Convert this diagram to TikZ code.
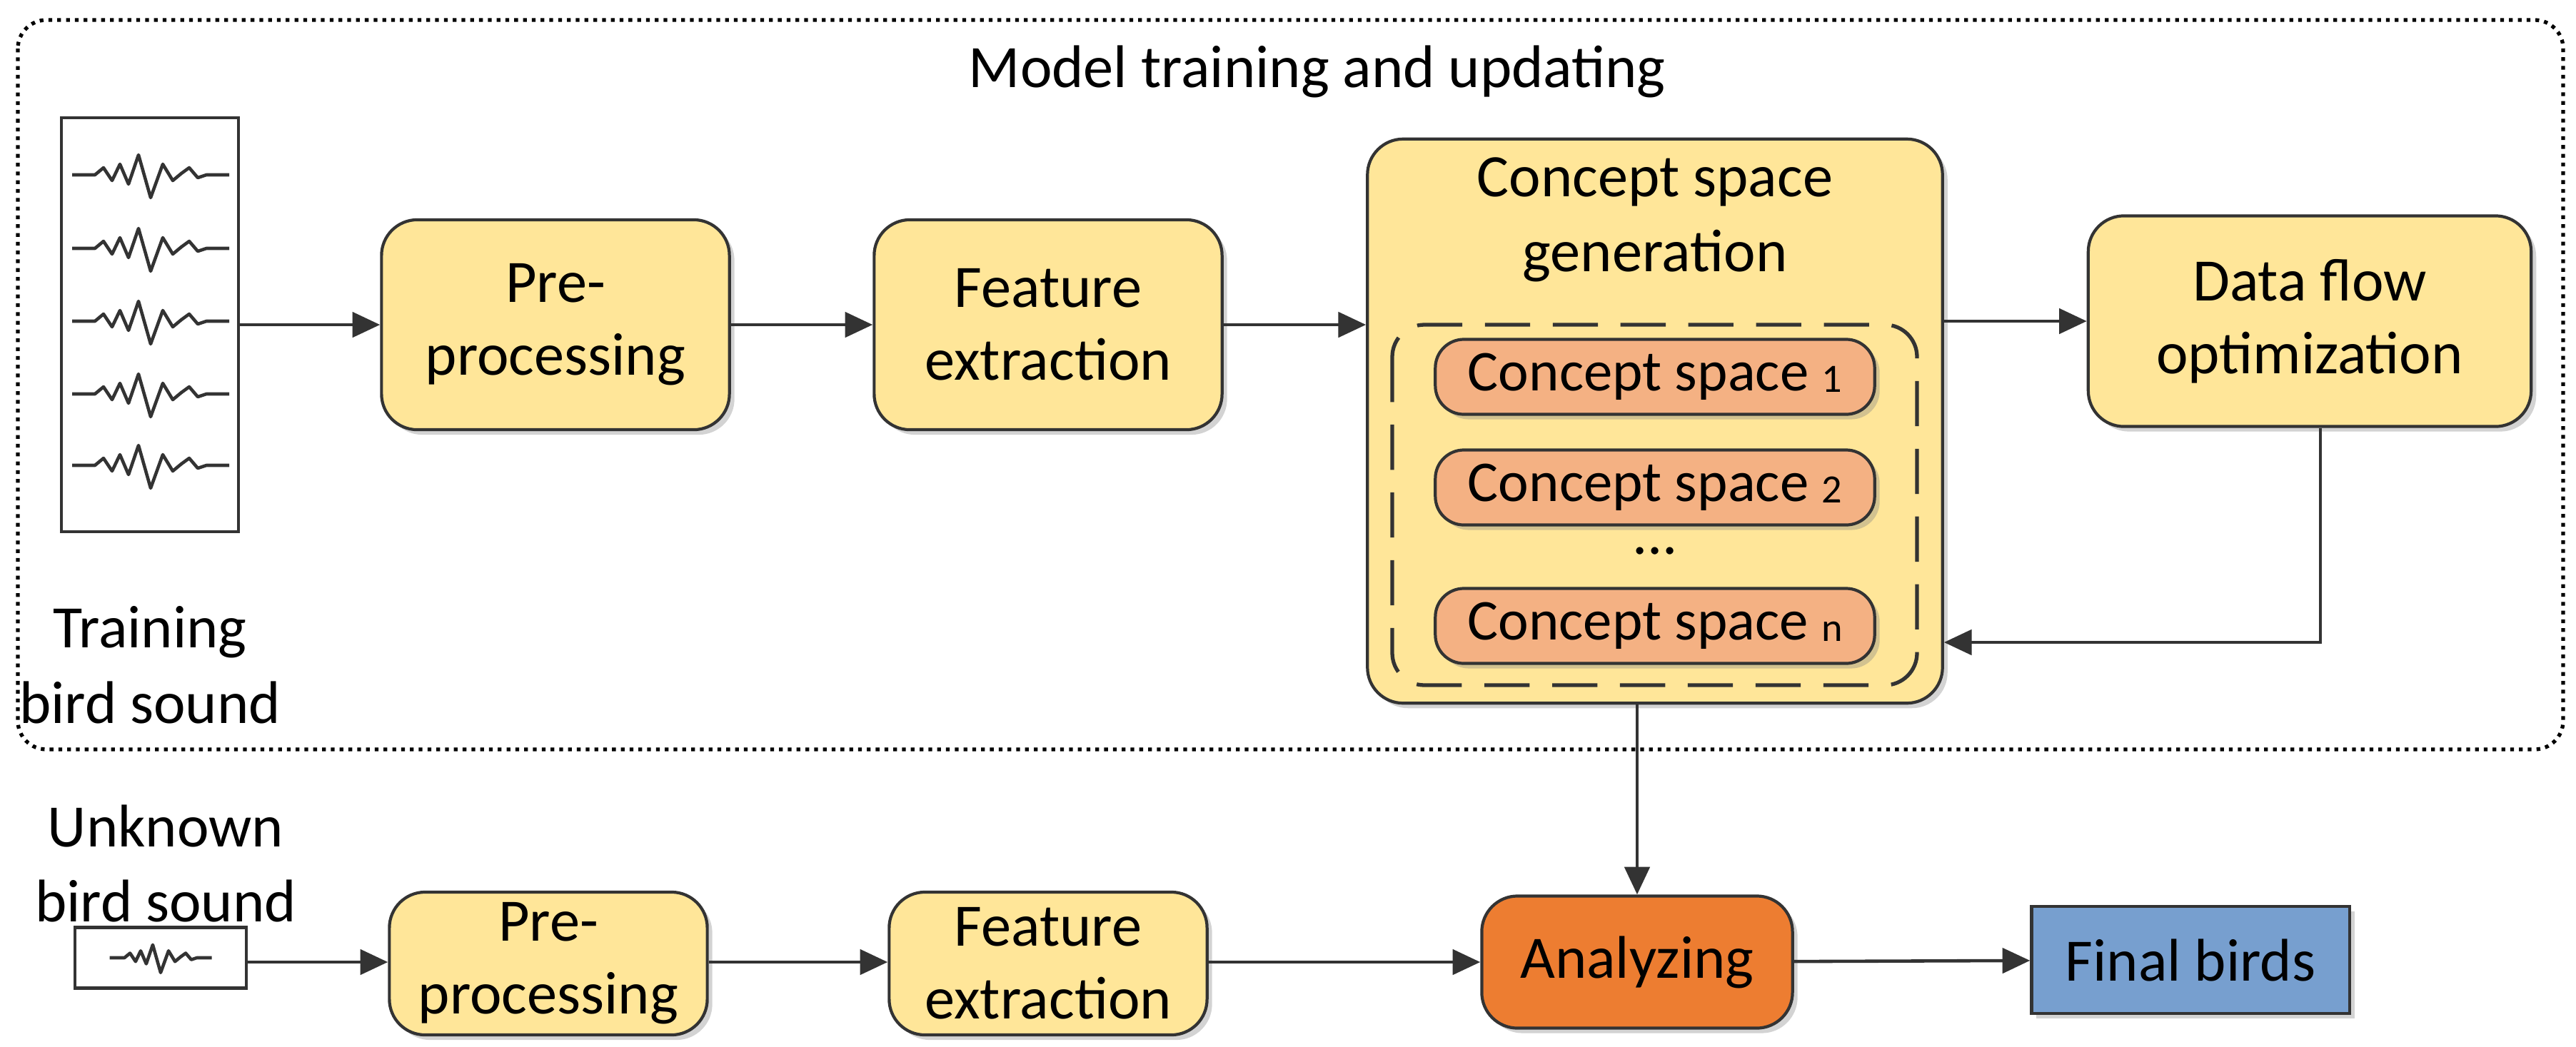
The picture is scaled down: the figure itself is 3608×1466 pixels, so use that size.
\documentclass[tikz,border=0pt]{standalone}
\usepackage{fontspec}
\setmainfont{Carlito}
\usetikzlibrary{arrows.meta,shadows}
\definecolor{yel}{HTML}{FFE699}
\definecolor{sal}{HTML}{F4B183}
\definecolor{org}{HTML}{ED7D31}
\definecolor{blu}{HTML}{779FCF}
\definecolor{edge}{HTML}{333333}
\tikzset{
  box/.style={draw=edge, line width=1.2pt, fill=yel, rounded corners=0.5cm, align=center,
    font=\fontsize{24}{29}\selectfont, drop shadow={shadow xshift=2pt,shadow yshift=-2pt,opacity=0.35}},
  cs/.style={draw=edge, line width=1.2pt, fill=sal, rounded corners=0.4cm, minimum width=6.15cm, minimum height=1.05cm,
    font=\fontsize{23}{28}\selectfont, drop shadow={shadow xshift=2pt,shadow yshift=-2pt,opacity=0.35}},
  arr/.style={draw=edge, line width=1.3pt, -{Triangle[length=11pt,width=10pt]}},
  lbl/.style={font=\fontsize{24}{30}\selectfont, align=center},
  wave/.pic={\draw[edge, line width=1.3pt, line join=round] (-110,0) -- (-78,0) -- (-66,-10) -- (-54,8) -- (-43,-15) -- (-31,13) -- (-17,-28) -- (0,32) -- (17,-15) -- (31,8) -- (43,-2) -- (54,-10) -- (66,4) -- (78,0) -- (110,0);}
}
\begin{document}
\begin{tikzpicture}[x=0.01cm,y=-0.01cm]
\useasboundingbox (0,0) rectangle (3608,1466);
% dotted frame
\draw[line width=1.5pt, dotted, rounded corners=0.4cm] (25,28) rectangle (3590,1050);
\node[lbl] (title) at (1845,100) {Model training and updating};
% training sound box
\node[draw=edge, line width=1.3pt, fill=white, minimum width=2.48cm, minimum height=5.8cm, inner sep=0pt] (tsb) at (210,455) {};
\foreach \yy in {245,348,450,552,652} \pic at (211,\yy) {wave};
\node[lbl] (tlab) at (210,932) {Training\\bird sound};
% top row
\node[box, minimum width=4.87cm, minimum height=2.94cm] (pp1) at (778,455) {Pre-\\processing};
\node[box, minimum width=4.87cm, minimum height=2.94cm] (fe1) at (1468,455) {Feature\\extraction};
\node[box, minimum width=8.05cm, minimum height=7.9cm] (csg) at (2318,590) {};
\node[lbl] (csgt) at (2318,308) {Concept space\\generation};
\draw[edge, line width=1.5pt, dashed, dash pattern=on 18pt off 9pt, rounded corners=0.45cm] (1950,455) rectangle (2685,960);
\node[cs] (c1) at (2318,528) {Concept space \raisebox{-0.5pt}{\fontsize{16}{18}\selectfont 1}};
\node[cs] (c2) at (2318,683) {Concept space \raisebox{-0.5pt}{\fontsize{16}{18}\selectfont 2}};
\node[lbl] (dots) at (2318,772) {...};
\node[cs] (cn) at (2318,877) {Concept space \raisebox{-0.5pt}{\fontsize{16}{18}\selectfont n}};
\node[box, minimum width=6.2cm, minimum height=2.95cm] (dfo) at (3235,450) {Data flow\\optimization};
\draw[arr] (tsb.east |- pp1) -- (pp1);
\draw[arr] (pp1) -- (fe1);
\draw[arr] (fe1) -- (csg.west |- fe1);
\draw[arr] (csg.east |- dfo) -- (dfo);
\coordinate (fb) at (3250,900);
\draw[arr] (dfo.south -| fb) -- (fb) -- (csg.east |- fb);
% bottom row
\node[lbl] (ulab) at (232,1210) {Unknown\\bird sound};
\node[draw=edge, line width=1.3pt, fill=white, minimum width=2.4cm, minimum height=0.85cm, inner sep=0pt] (usb) at (225,1342) {};
\pic[scale=0.65] at (225,1342) {wave};
\node[box, minimum width=4.45cm, minimum height=2cm] (pp2) at (768,1350) {Pre-\\processing};
\node[box, minimum width=4.45cm, minimum height=2cm] (fe2) at (1468,1350) {Feature\\extraction};
\node[box, fill=org, minimum width=4.35cm, minimum height=1.85cm] (ana) at (2293,1348) {Analyzing};
\node[box, fill=blu, rounded corners=0pt, minimum width=4.45cm, minimum height=1.5cm] (fin) at (3068,1345) {Final birds};
\draw[arr] (usb.east |- ana) -- (pp2.west |- ana);
\draw[arr] (pp2.east |- ana) -- (fe2.west |- ana);
\draw[arr] (fe2.east |- ana) -- (ana);
\draw[arr] (ana) -- (fin);
\draw[arr] (csg.south -| ana) -- (ana);
\end{tikzpicture}
\end{document}
